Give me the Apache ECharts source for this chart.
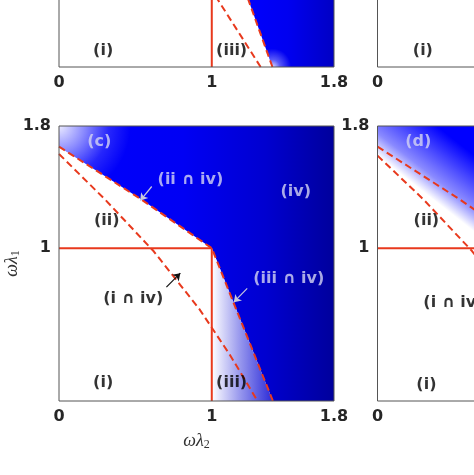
<!DOCTYPE html>
<html><head><meta charset="utf-8">
<script src="https://cdn.jsdelivr.net/npm/echarts@6/dist/echarts.min.js"></script>
<style>html,body{margin:0;padding:0;background:#fff}#c{width:474px;height:475px}</style>
</head><body><div id="c"></div><script>
// ---- data ----
const xTicks = [0, 1, 1.8];
const yTicks = [1, 1.8];
// panel (c)
const cRegionIV = [[0,1.8],[0,1.665],[0.53,1.325],[1.0,1.0],[1.40,0],[1.8,0],[1.8,1.8]];
const cRegionIII = [[1,1],[1,0],[1.40,0]];
const cDashed1 = [[0,1.665],[0.53,1.325],[1.0,1.0],[1.40,0]];
const cDashed2 = [[0,1.617],[0.30,1.32],[0.62,0.98],[0.92,0.60],[1.12,0.30],[1.30,0]];
const solidH = [[0,1],[1,1]];
const solidV = [[1,0],[1,1]];
const cLabelsDark = [[0.313,1.181,'(ii)'],[0.486,0.671,'(i ∩ iv)'],[0.289,0.116,'(i)'],[1.13,0.116,'(iii)']];
const cLabelsLight = [[0.263,1.699,'(c)'],[0.86,1.449,'(ii ∩ iv)'],[1.55,1.366,'(iv)'],[1.504,0.802,'(iii ∩ iv)']];
const cArrowsDark = [[[0.703,0.745],[0.794,0.837]]];
const cArrowsLight = [[[0.607,1.404],[0.532,1.312]],[[1.232,0.737],[1.144,0.647]]];
// panel (a) (only its lower strip is in view)
const aRegionIV = [[1.397,0],[1.2,0.55],[1.8,0.55],[1.8,0]];
const aDashed1 = [[1.397,0],[1.2,0.55]];
const aDashed2 = [[1.32,0],[0.97,0.55]];
const aSolidV = [[1,0],[1,0.55]];
const aLabels = [[0.289,0.109,'(i)'],[1.13,0.109,'(iii)']];
// panel (b) (lower-left corner in view)
const bLabels = [[0.297,0.109,'(i)']];
// panel (d) (left part in view)
const dRegion = [[0,1.8],[0,1.606],[0.324,1.323],[0.66,1.08],[0.66,1.8]];
const dDashed1 = [[0,1.665],[0.53,1.325],[1.0,1.0]];
const dDashed2 = [[0,1.606],[0.30,1.32],[0.62,0.98],[0.92,0.60],[1.12,0.30],[1.30,0]];
const dLabelsDark = [[0.32,1.181,'(ii)'],[0.497,0.64,'(i ∩ iv)'],[0.32,0.109,'(i)']];
const dLabelsLight = [[0.267,1.699,'(d)']];

// ---- styling helpers ----
const RED = '#e8391d';
const LIGHT = '#d4d4f2';
const DARK = '#000000';
const LG = echarts.graphic.LinearGradient;
const RG = echarts.graphic.RadialGradient;

function lineSeries(g, data, dashed) {
  return {type:'line', xAxisIndex:g, yAxisIndex:g, data:data, symbol:'none', silent:true, z:4, clip:true,
    lineStyle:{color:RED, width:2, type: dashed ? [7,4] : 'solid'}};
}
function polySeries(g, pts, fills) {
  return {type:'custom', xAxisIndex:g, yAxisIndex:g, data:[[pts[0][0], pts[0][1]]], clip:true, z:2, silent:true,
    renderItem: function(params, api) {
      const p = pts.map(v => api.coord(v));
      return {type:'group', children: fills.map(f => ({type:'polygon', shape:{points:p}, style:{fill:f}}))};
    }};
}
function labelSeries(g, items, color) {
  return {type:'scatter', xAxisIndex:g, yAxisIndex:g, data: items.map(d => ({value:[d[0], d[1]], name:d[2]})),
    symbolSize:1, itemStyle:{color:'rgba(0,0,0,0)'}, z:6, silent:true,
    label:{show:true, position:'inside', formatter: p => p.name, color:color, textBorderWidth:0, textBorderColor:'transparent',
      fontSize:16, fontWeight:'bold', fontFamily:'DejaVu Sans'}};
}
function arrowSeries(g, items, color) {
  return {type:'lines', coordinateSystem:'cartesian2d', xAxisIndex:g, yAxisIndex:g,
    data: items.map(d => ({coords:d})), symbol:['none','arrow'], symbolSize:7,
    lineStyle:{color:color, width:1.2, opacity:1}, z:6, silent:true};
}
const tickStyle = {fontSize:16, fontWeight:'bold', fontFamily:'DejaVu Sans', color:'#262626', margin:8};
const nameRich = {a:{fontFamily:'Liberation Serif', fontStyle:'italic', fontSize:18, color:'#333'},
                  b:{fontFamily:'Liberation Serif', fontSize:12, color:'#333', verticalAlign:'bottom', padding:[8,0,0,0]}};
function xAxis(g, nameOn) {
  const a = {type:'value', gridIndex:g, min:0, max:1.8, axisLine:{show:false}, axisTick:{show:false}, splitLine:{show:false},
    axisLabel:Object.assign({customValues:xTicks, formatter: v => String(v)}, tickStyle)};
  if (nameOn) { a.name = '{a|ωλ}{b|2}'; a.nameLocation = 'middle'; a.nameGap = 30; a.nameMoveOverlap = false; a.nameTextStyle = {rich:nameRich}; }
  return a;
}
function yAxis(g, nameOn) {
  const a = {type:'value', gridIndex:g, min:0, max:1.8, axisLine:{show:false}, axisTick:{show:false}, splitLine:{show:false},
    axisLabel:Object.assign({customValues:yTicks, formatter: v => String(v)}, tickStyle)};
  if (nameOn) { a.name = '{a|ωλ}{b|1}'; a.nameLocation = 'middle'; a.nameGap = 37; a.nameMoveOverlap = false; a.nameTextStyle = {rich:nameRich}; }
  return a;
}
const gridBase = {show:true, borderColor:'#555', borderWidth:1, backgroundColor:'rgba(0,0,0,0)', z:10, containLabel:false, outerBoundsMode:'none'};

const option = {
  animation:false,
  backgroundColor:'#fff',
  grid:[
    Object.assign({left:59, top:-208, width:275, height:275}, gridBase),
    Object.assign({left:377.5, top:-208, width:275, height:275}, gridBase),
    Object.assign({left:59, top:126, width:275, height:275}, gridBase),
    Object.assign({left:377.5, top:126, width:275, height:275}, gridBase)
  ],
  xAxis:[xAxis(0,false), xAxis(1,false), xAxis(2,true), xAxis(3,false)],
  yAxis:[yAxis(0,false), yAxis(1,false), yAxis(2,true), yAxis(3,false)],
  series:[
    // panel (a)
    polySeries(0, aRegionIV, [
      new LG(0,0,1,0,[{offset:0,color:'#0000ff'},{offset:0.5,color:'#0000f0'},{offset:1,color:'#0000c4'}]),
      new RG(0.33,1,0.22,[{offset:0,color:'rgba(255,255,255,0.85)'},{offset:0.4,color:'rgba(255,255,255,0.35)'},{offset:1,color:'rgba(255,255,255,0)'}])
    ]),
    lineSeries(0, aSolidV, false),
    lineSeries(0, aDashed1, true),
    lineSeries(0, aDashed2, true),
    labelSeries(0, aLabels, DARK),
    // panel (b)
    labelSeries(1, bLabels, DARK),
    // panel (c)
    polySeries(2, cRegionIV, [
      new LG(0,0,1,0,[{offset:0,color:'#0000ff'},{offset:0.45,color:'#0000f4'},{offset:0.75,color:'#0000d0'},{offset:1,color:'#00009c'}]),
      new RG(0,0,0.26,[{offset:0,color:'rgba(255,255,255,0.92)'},{offset:0.35,color:'rgba(255,255,255,0.55)'},{offset:0.7,color:'rgba(255,255,255,0.15)'},{offset:1,color:'rgba(255,255,255,0)'}])
    ]),
    polySeries(2, cRegionIII, [
      new LG(0,0,1,0,[{offset:0,color:'#ffffff'},{offset:0.45,color:'#9a9aee'},{offset:1,color:'#2a2ad8'}])
    ]),
    lineSeries(2, solidH, false),
    lineSeries(2, solidV, false),
    lineSeries(2, cDashed1, true),
    lineSeries(2, cDashed2, true),
    arrowSeries(2, cArrowsDark, '#111'),
    arrowSeries(2, cArrowsLight, '#c8c8dc'),
    labelSeries(2, cLabelsDark, DARK),
    labelSeries(2, cLabelsLight, LIGHT),
    // panel (d)
    polySeries(3, dRegion, [
      new LG(0.485,0.62,0.853,0.19,[{offset:0,color:'#ffffff'},{offset:0.3,color:'#8a8aff'},{offset:1,color:'#0000ff'}])
    ]),
    lineSeries(3, solidH, false),
    lineSeries(3, solidV, false),
    lineSeries(3, dDashed1, true),
    lineSeries(3, dDashed2, true),
    labelSeries(3, dLabelsDark, DARK),
    labelSeries(3, dLabelsLight, LIGHT)
  ]
};
const chart = echarts.init(document.getElementById('c'), null, {renderer:'canvas'});
chart.setOption(option);
</script></body></html>
